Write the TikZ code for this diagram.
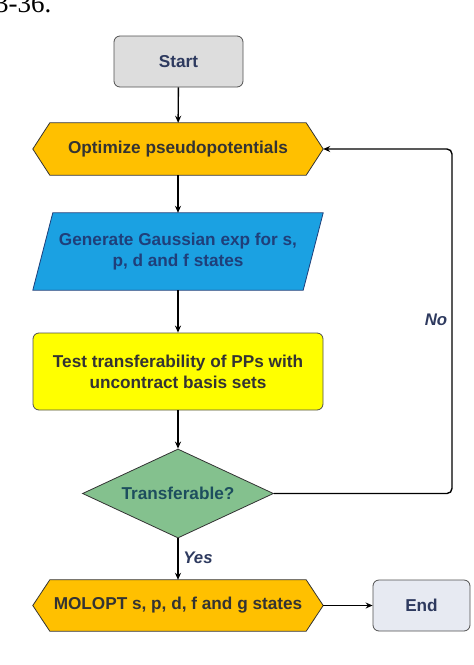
\documentclass[tikz,border=0pt]{standalone}
\usepackage{fontspec}
\setmainfont{Liberation Sans}
\newfontfamily\captionserif{Liberation Serif}
\usetikzlibrary{calc,shapes.geometric,arrows.meta}
\definecolor{startfill}{HTML}{DDDDDD}
\definecolor{optfill}{HTML}{FFC000}
\definecolor{genfill}{HTML}{1BA1E2}
\definecolor{testfill}{HTML}{FFFF00}
\definecolor{diafill}{HTML}{84C18E}
\definecolor{endfill}{HTML}{E7EAF2}
\definecolor{navytext}{HTML}{2E3A5F}
\definecolor{darktext}{HTML}{333333}
\definecolor{gentext}{HTML}{1F3F7A}
\definecolor{diatext}{HTML}{1D4E5E}
\definecolor{edgegray}{HTML}{505050}
\tikzset{
  boxtext/.style={font=\fontsize{17.2}{21}\selectfont\bfseries, align=center, inner sep=0pt},
  roundbox/.style={boxtext, draw=edgegray, line width=0.8pt, rounded corners=6pt},
  plainbox/.style={boxtext, draw=none},
  shapeline/.style={draw=black!80, line width=0.8pt},
  flow/.style={draw=black, line width=1.4pt, -{Stealth[length=7pt,width=6pt]}},
  lbl/.style={font=\fontsize{16.8}{20}\selectfont\bfseries\itshape, text=navytext, inner sep=0pt}
}
\begin{document}
\begin{tikzpicture}[x=1pt,y=-1pt]
\useasboundingbox (0,0) rectangle (474,665);
% partial caption fragment at top
\node[anchor=base west, inner sep=0pt, font=\captionserif\fontsize{27}{27}\selectfont] (frag) at (-5,12) {3-36.};
% nodes
\node[roundbox, fill=startfill, text=navytext, minimum width=129pt, minimum height=51pt] (start) at (178.5,61.5) {Start};
\node[plainbox, text=darktext, minimum width=290pt, minimum height=52pt] (opt) at (178,149) {};
\node[plainbox, minimum width=290pt, minimum height=77pt] (gen) at (178,251.5) {};
\node[roundbox, fill=testfill, text=darktext, minimum width=290pt, minimum height=77pt] (test) at (178,371.5) {Test transferability of PPs with\\uncontract basis sets};
\node[diamond, shapeline, fill=diafill, minimum width=191pt, minimum height=89pt, aspect=2.15, inner sep=0pt] (dia) at (178,493.5) {};
\node[plainbox, minimum width=290pt, minimum height=51pt] (mol) at (178,605.5) {};
\node[roundbox, fill=endfill, text=navytext, minimum width=97pt, minimum height=51pt] (end) at (421.5,605.5) {End};
% shapes drawn from anchors
\filldraw[shapeline, fill=optfill] (opt.west) -- ($(opt.north west)+(17,0)$) -- ($(opt.north east)+(-17,0)$) -- (opt.east) -- ($(opt.south east)+(-17,0)$) -- ($(opt.south west)+(17,0)$) -- cycle;
\filldraw[shapeline, fill=optfill] (mol.west) -- ($(mol.north west)+(17,0)$) -- ($(mol.north east)+(-17,0)$) -- (mol.east) -- ($(mol.south east)+(-17,0)$) -- ($(mol.south west)+(17,0)$) -- cycle;
\filldraw[shapeline, draw=gentext, fill=genfill] ($(gen.north west)+(20,0)$) -- (gen.north east) -- ($(gen.south east)+(-20,0)$) -- (gen.south west) -- cycle;
% texts
\node[boxtext, text=darktext] (optt) at (opt.center) {Optimize pseudopotentials};
\node[boxtext, text=gentext] (gent) at (gen.center) {Generate Gaussian exp for s,\\p, d and f states};
\node[boxtext, text=diatext] (diat) at (dia.center) {Transferable?};
\node[boxtext, text=darktext] (molt) at (mol.center) {MOLOPT s, p, d, f and g states};
% connectors
\coordinate (lx) at (452,0);
\draw[flow] (start) -- (opt);
\draw[flow] (opt) -- (gen);
\draw[flow] (gen) -- (test);
\draw[flow] (test) -- (dia);
\draw[flow] (dia) -- (mol);
\draw[flow] (mol.east) -- (end.west);
\draw[flow, rounded corners=5pt] (dia.east) -- (dia.east -| lx) -- (opt.east -| lx) -- (opt.east);
% labels
\node[lbl] (yes) at (198,558) {Yes};
\node[lbl] (no) at (436,320) {No};
\end{tikzpicture}
\end{document}
